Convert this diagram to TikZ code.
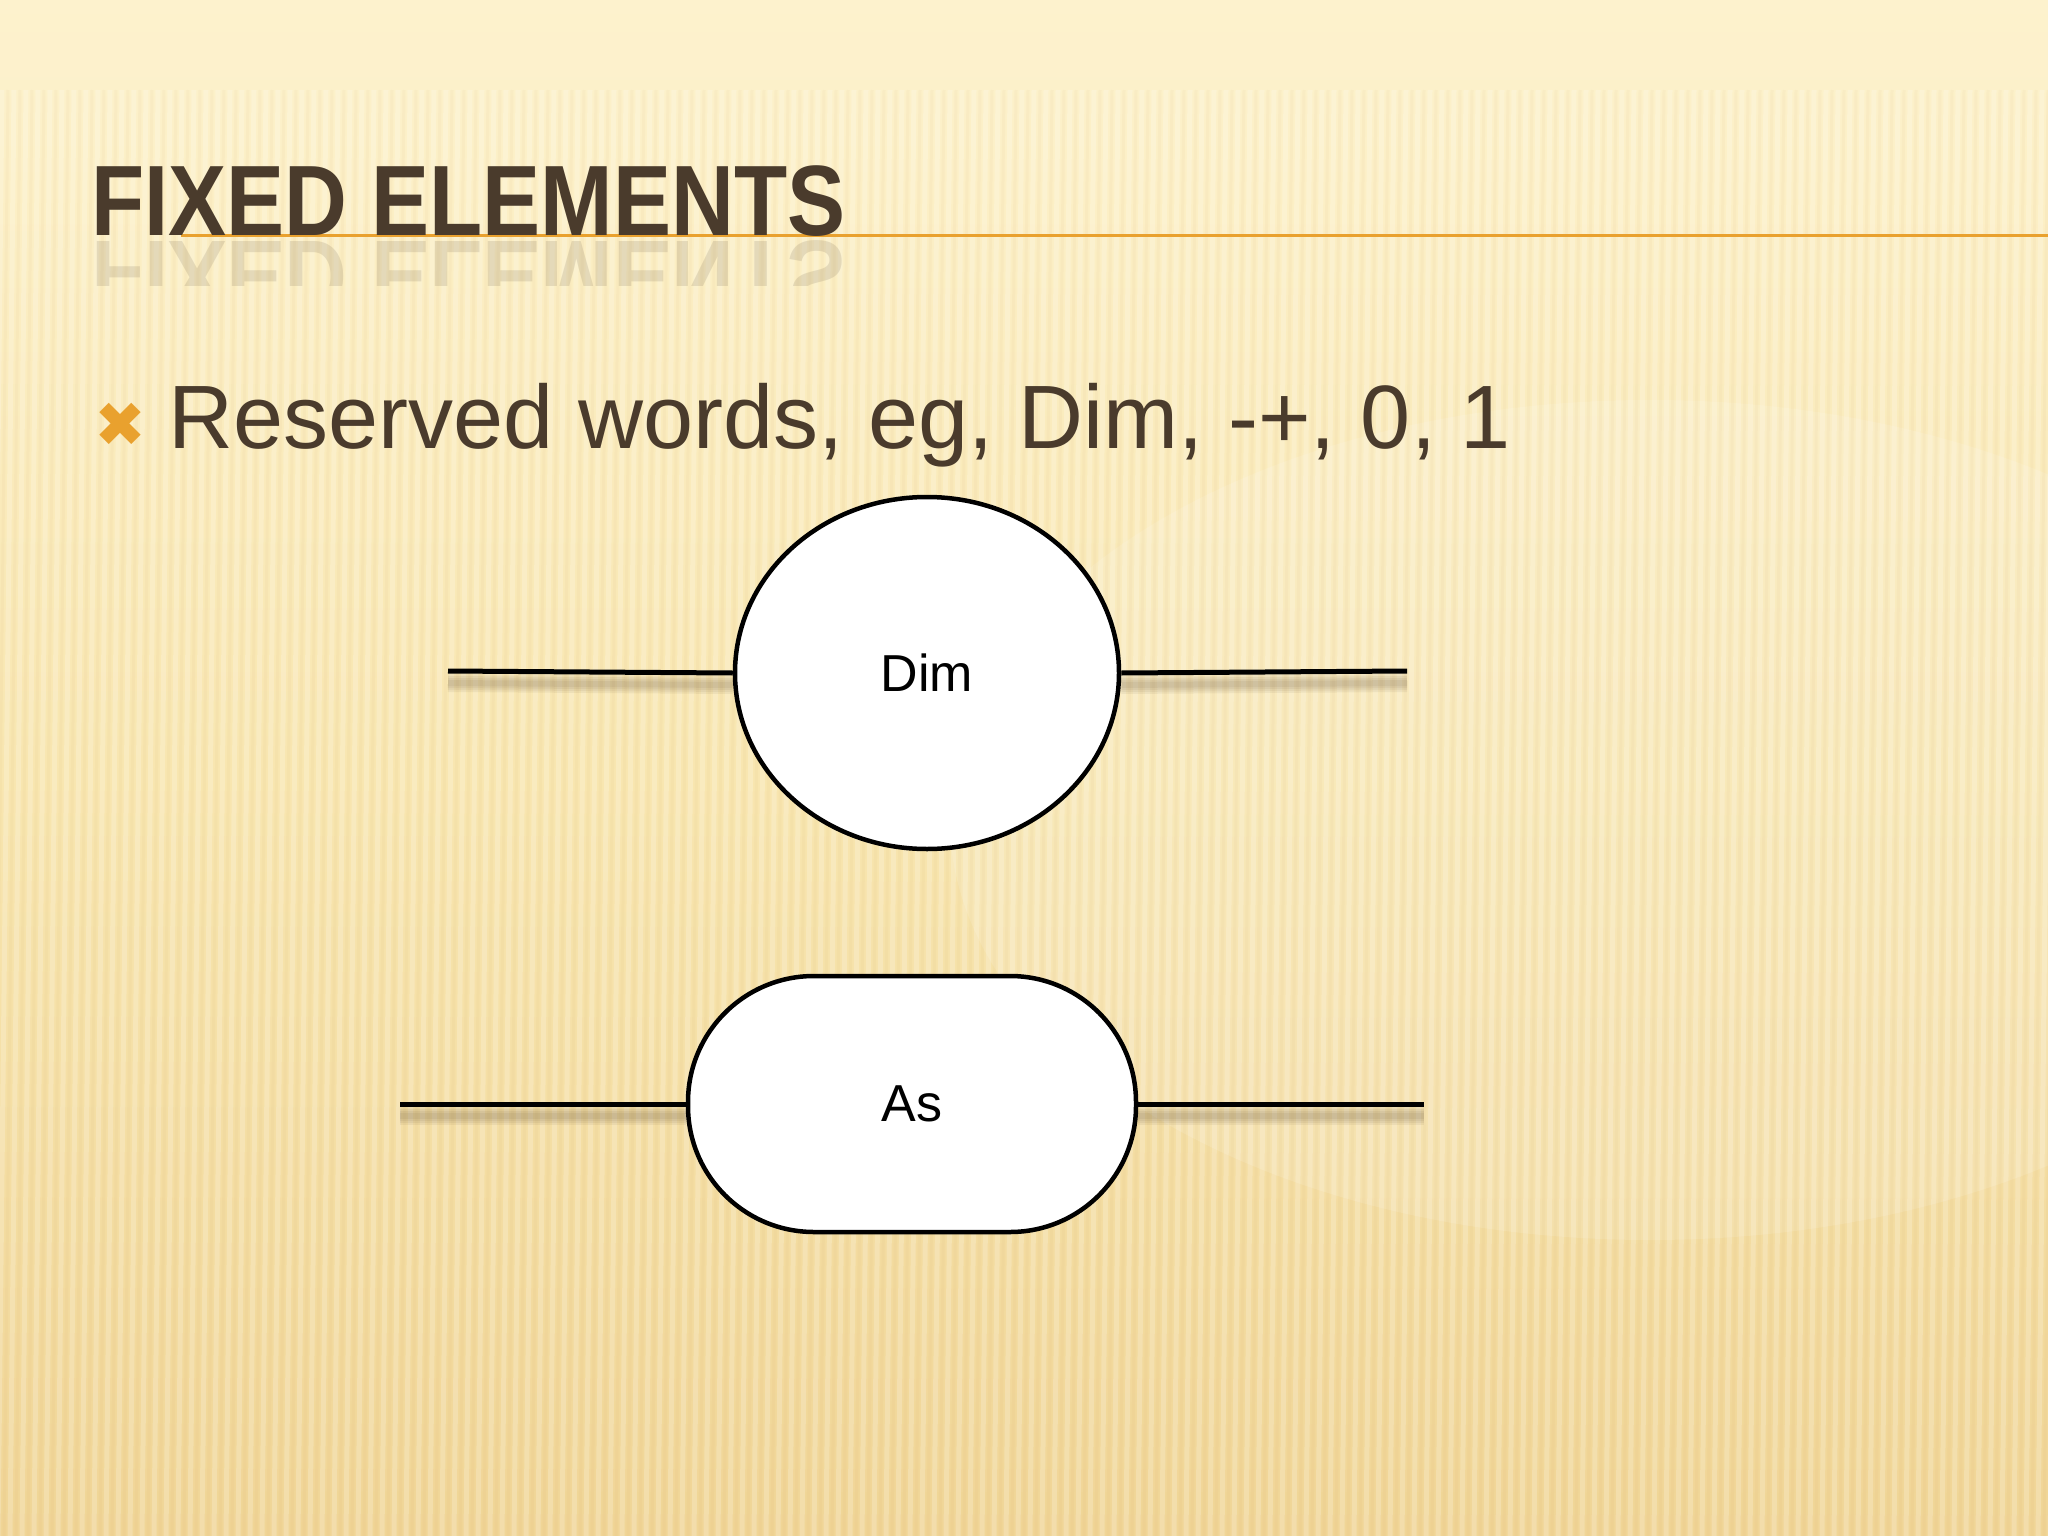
\documentclass[tikz,border=0pt]{standalone}
\usepackage{fontspec}
\setmainfont{Liberation Sans}
\newfontfamily\symfont{DejaVu Sans}
\usetikzlibrary{shapes.geometric}
\definecolor{bgtop}{HTML}{FDF2CD}
\definecolor{bgmid}{HTML}{F8E6B0}
\definecolor{bgbot}{HTML}{F0D596}
\definecolor{txtbrown}{HTML}{4A3B2C}
\definecolor{accent}{HTML}{E9A12E}
\tikzset{
  connector/.style={line width=5pt, black},
  lineshadow/.style={line width=#1, black!70!brown, opacity=0.06},
  shapebox/.style={draw=black, line width=4.5pt, fill=white, inner sep=0pt, font=\fontsize{52}{60}\selectfont},
  stripe/.style={line width=5pt, white, opacity=0.2},
  darkstripe/.style={line width=3pt, brown, opacity=0.04}
}
\begin{document}
\begin{tikzpicture}[x=1pt,y=-1pt]
\useasboundingbox (0,0) rectangle (2048,1536);
% background
\shade[top color=bgtop, bottom color=bgbot, middle color=bgmid] (0,0) rectangle (2048,1536);
\fill[white, opacity=0.12] (1650,820) ellipse (700 and 420);
\foreach \i in {0,...,175} {
  \draw[stripe] ({\i*12+2},90) -- ({\i*12-14},1536);
  \draw[darkstripe] ({\i*12+8},90) -- ({\i*12-8},1536);
}
\fill[bgtop, opacity=0.75] (0,0) rectangle (2048,80);
% title
\draw[accent, line width=3pt] (181,235) -- (2048,235);
\begin{scope}
\clip (0,237) rectangle (1000,285);
\node[anchor=south west, inner sep=0pt, text=txtbrown, opacity=0.13, yscale=-1, xscale=0.87,
      font=\bfseries\fontsize{100}{110}\selectfont] (titlerefl) at (91,240) {FIXED ELEMENTS};
\end{scope}
\node[anchor=base west, inner sep=0pt, text=txtbrown, xscale=0.87,
      font=\bfseries\fontsize{100}{110}\selectfont] (title) at (91,235) {FIXED ELEMENTS};
% bullet
\node[anchor=base west, inner sep=0pt, text=accent, font=\symfont\fontsize{62}{70}\selectfont] (bul) at (94,446) {✖};
\node[anchor=base west, inner sep=0pt, text=txtbrown, font=\fontsize{90}{100}\selectfont] (bullet) at (168,448) {Reserved words, eg, Dim, -+, 0, 1};
% Dim ellipse
\coordinate (d1) at (448,671);
\coordinate (d2) at (1407,671);
\node[shapebox, ellipse, minimum width=384pt, minimum height=352pt] (dim) at (927,673) {Dim};
\foreach \w in {6,10,14,18} {
  \draw[lineshadow=\w pt] ([yshift=-12pt]d1) -- ([yshift=-12pt]dim.west);
  \draw[lineshadow=\w pt] ([yshift=-12pt]dim.east) -- ([yshift=-12pt]d2);
}
\draw[connector] (d1) -- (dim.west);
\draw[connector] (dim.east) -- (d2);
% As stadium
\coordinate (a1) at (400,1104);
\coordinate (a2) at (1424,1104);
\node[shapebox, rectangle, rounded corners=126pt, minimum width=448pt, minimum height=256pt] (as) at (912,1104) {As};
\foreach \w in {6,10,14,18} {
  \draw[lineshadow=\w pt] ([yshift=-12pt]a1) -- ([yshift=-12pt]as.west);
  \draw[lineshadow=\w pt] ([yshift=-12pt]as.east) -- ([yshift=-12pt]a2);
}
\draw[connector] (a1) -- (as.west);
\draw[connector] (as.east) -- (a2);
\end{tikzpicture}
\end{document}
